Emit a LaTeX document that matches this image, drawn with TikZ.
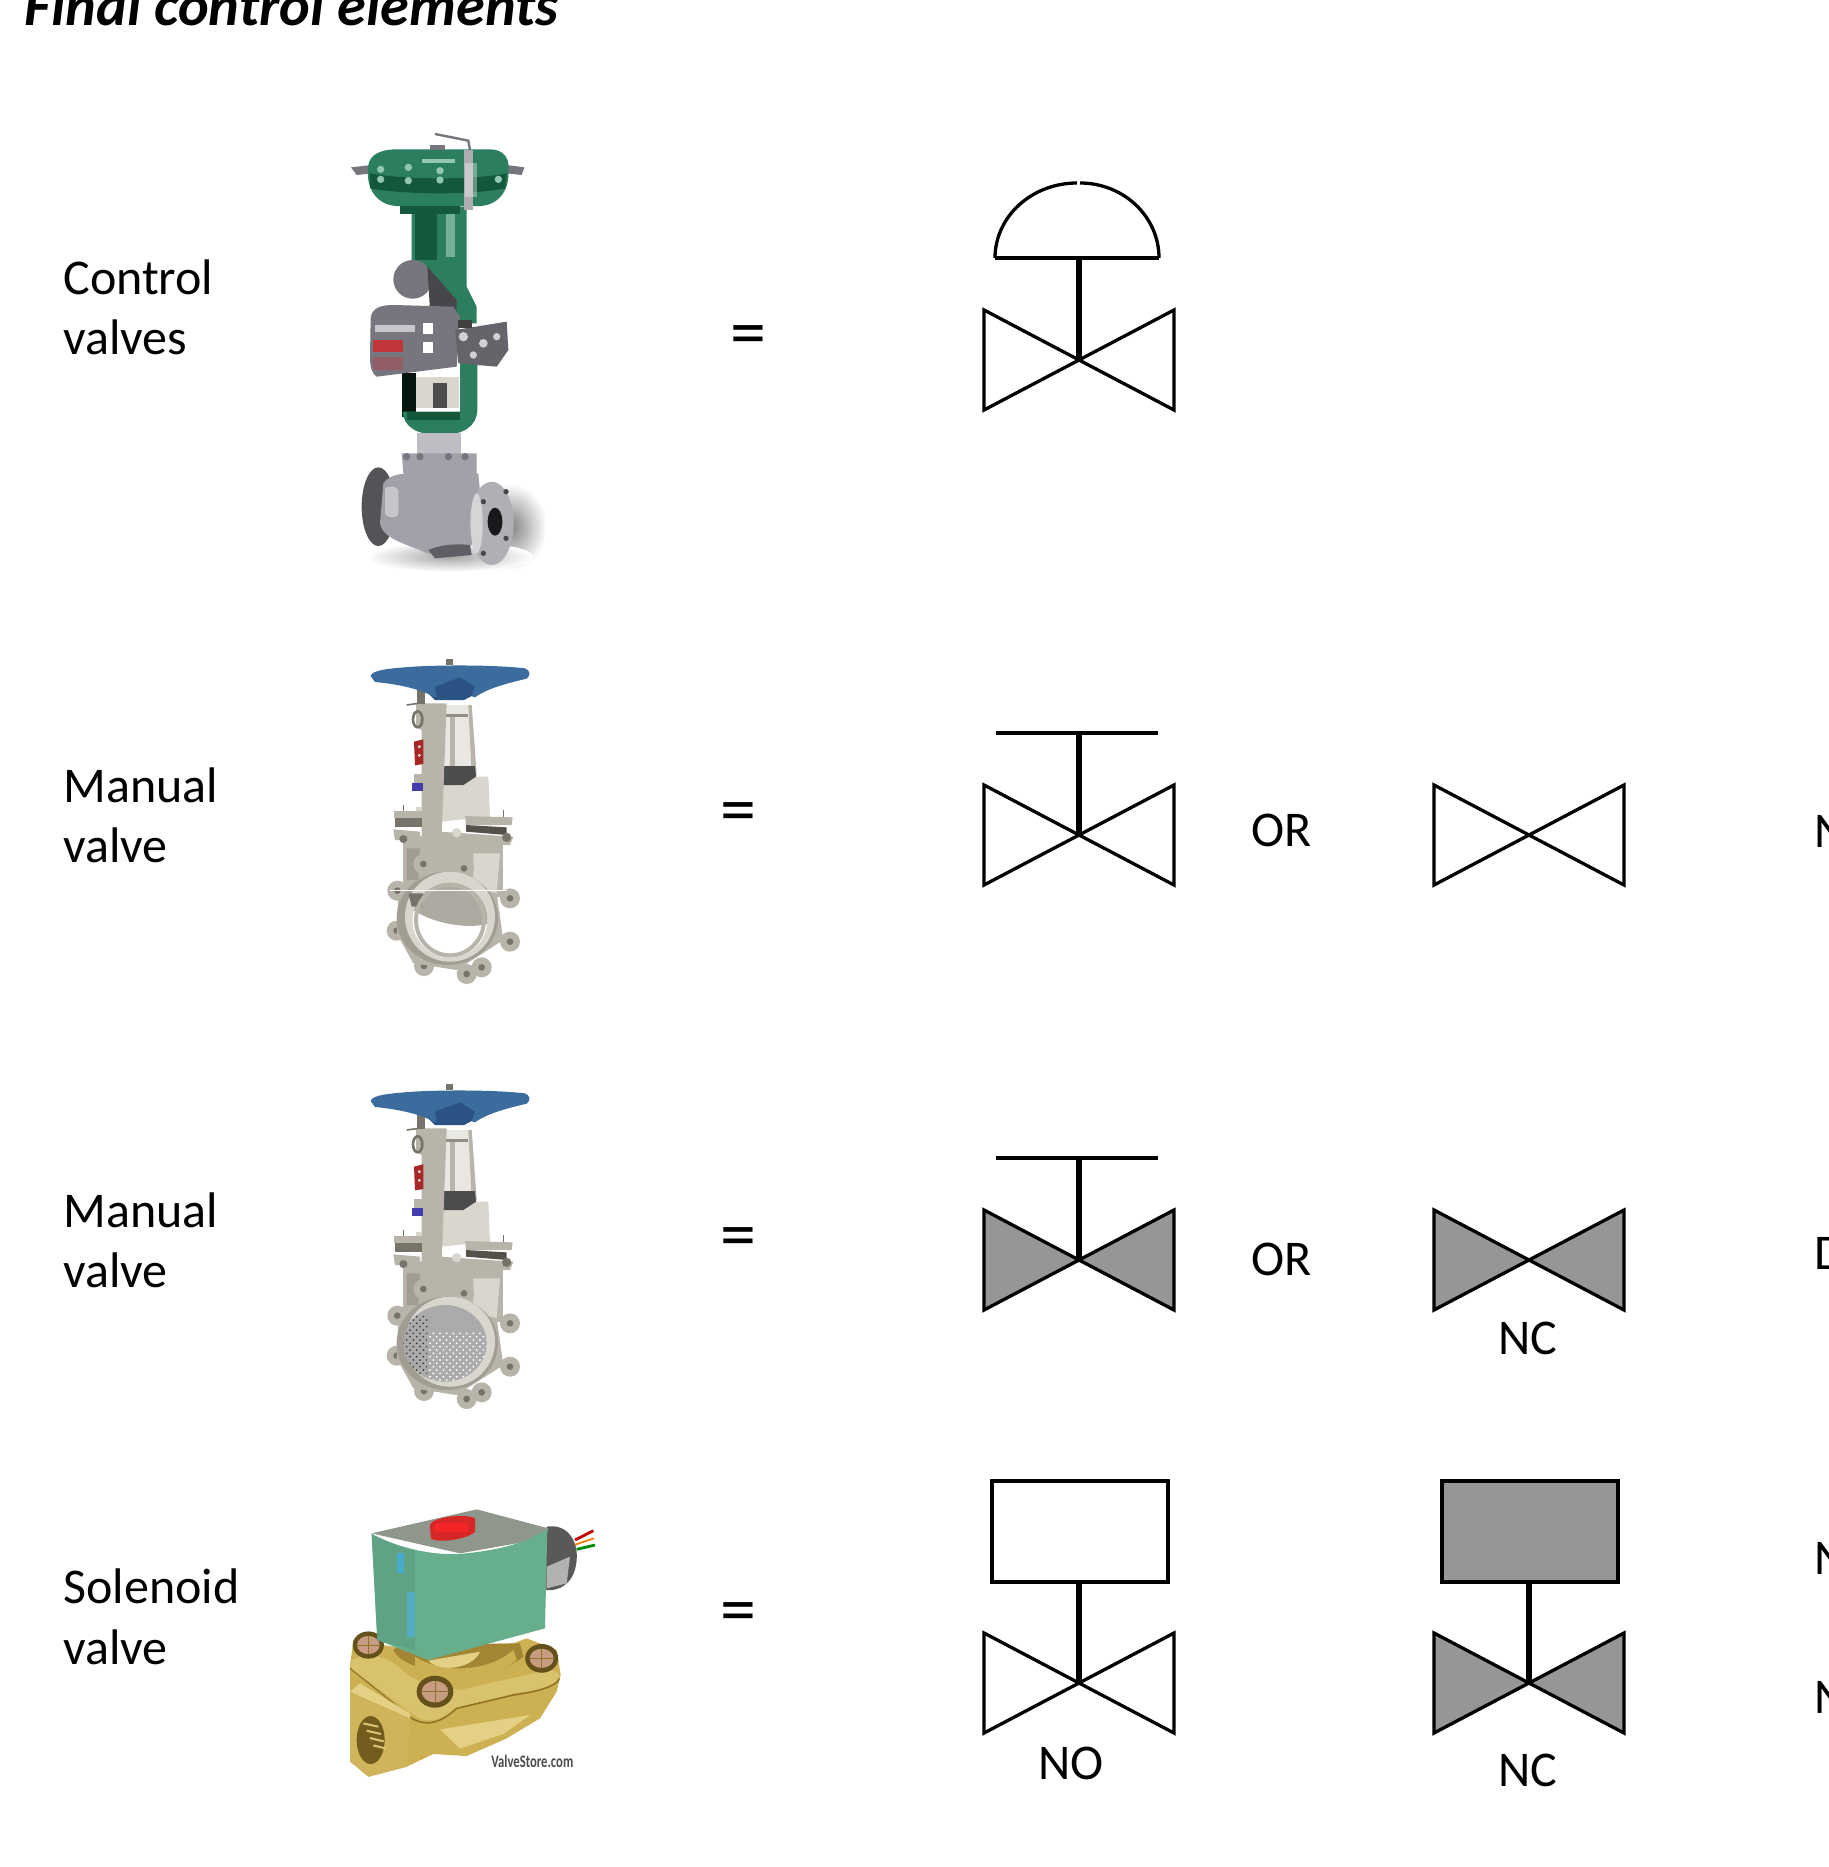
\documentclass[tikz,border=0pt]{standalone}
\usepackage{fontspec}
\setmainfont{Carlito}
\usetikzlibrary{calc}
\definecolor{symgray}{HTML}{969696}
\definecolor{steel}{HTML}{B9B4A9}
\definecolor{steellt}{HTML}{D9D6CE}
\definecolor{steeldk}{HTML}{77736A}
\definecolor{wheel}{HTML}{3C6C9E}
\definecolor{wheeldk}{HTML}{2A5383}
\definecolor{cvgreen}{HTML}{2B7F5E}
\definecolor{cvdark}{HTML}{14583C}
\definecolor{cvlight}{HTML}{93C7B1}
\definecolor{cvgray}{HTML}{77767E}
\definecolor{cvbody}{HTML}{A2A1A9}
\definecolor{coil}{HTML}{66AE8C}
\definecolor{coiltop}{HTML}{8F978C}
\definecolor{brass}{HTML}{CDB052}
\definecolor{brassdk}{HTML}{8F7426}
\definecolor{brasslt}{HTML}{E3D084}
\definecolor{nutpink}{HTML}{C79C80}
\tikzset{
  symline/.style={draw=black,line width=1.65pt,line join=miter},
  stemline/.style={draw=black,line width=2.9pt},
  lbl/.style={anchor=base west,inner sep=0pt,font=\fontsize{25}{30}\selectfont},
  ctr/.style={anchor=center,inner sep=0pt,font=\fontsize{25}{30}\selectfont},
  eqsign/.style={anchor=center,inner sep=0pt,font=\fontsize{36}{40}\selectfont},
  pics/openvalve/.style={code={
    \path[symline,fill=white] (-95,-50)--(95,50)--(95,-50)--(-95,50)--cycle;}},
  pics/shutvalve/.style={code={
    \path[symline,fill=symgray] (-95,-50)--(95,50)--(95,-50)--(-95,50)--cycle;}},
}
\newcommand{\GateBody}{%
  % lower flange body
  \fill[steel] (190,600)--(490,600)--(490,770)--(190,770)--cycle;
  \fill[steellt] (400,640)--(480,640)--(470,760)--(400,740)--cycle;
  \fill[steeldk!35!steel] (200,625)--(240,625)--(235,720)--(200,720)--cycle;
  % cylinder
  \fill[steellt] (300,410)--(445,410)--(450,530)--(300,545)--cycle;
  % yoke
  \fill[steellt!60!white] (315,195)--(395,195)--(410,410)--(305,430)--cycle;
  \fill[steel] (385,195)--(395,195)--(410,405)--(395,405)--cycle;
  \fill[steel] (330,230)--(345,230)--(345,380)--(330,380)--cycle;
  \fill[steeldk!60!steel] (318,222)--(385,222)--(385,232)--(318,232)--cycle;
  \fill[black!70] (310,378)--(405,378)--(408,410)--(370,435)--(310,435)--cycle;
  \fill[steel] (228,190)--(320,190)--(305,590)--(245,590)--(245,270)--(228,260)--cycle;
  \fill[steellt] (228,500)--(245,500)--(245,512)--(228,512)--cycle;
  % flanges
  \fill[steel] (162,512)--(245,512)--(245,535)--(162,535)--cycle;
  \fill[steeldk] (165,535)--(245,535)--(245,560)--(165,560)--cycle;
  \fill[steel] (160,568)--(240,575)--(240,600)--(165,600)--cycle;
  \fill[steel] (375,528)--(518,532)--(515,555)--(378,555)--cycle;
  \fill[steeldk!70!black] (378,555)--(500,562)--(500,585)--(378,575)--cycle;
  \fill[steel] (300,575)--(520,590)--(510,615)--(240,615)--(240,590)--cycle;
  \fill[steeldk] (500,592) circle (14);
  \fill[steeldk] (190,597) circle (12);
  \fill[steellt] (350,578) circle (14);
  \fill[steel] (250,615)--(390,615)--(375,680)--(270,680)--cycle;
  \draw[steeldk,line width=.6pt] (190,495)--(190,512) (490,510)--(490,530);
  % handwheel
  \fill[wheeldk] (232,128)--(440,128)--(372,180)--(285,180)--cycle;
  \fill[steeldk] (232,145)--(255,145)--(255,192)--(232,192)--cycle;
  \fill[wheel] (92,108) .. controls (95,90) and (150,85) .. (220,80)
     .. controls (300,75) and (460,74) .. (555,85)
     .. controls (572,92) and (572,106) .. (560,116)
     .. controls (500,130) and (440,146) .. (405,172)
     .. controls (360,156) and (320,156) .. (285,172)
     .. controls (240,146) and (170,132) .. (105,126) -- cycle;
  \fill[wheeldk] (285,140)--(360,112)--(405,140)--(395,168)--(372,180)--(290,178)--cycle;
  \fill[steeldk] (317,58) rectangle (338,76);
  % hook and lock
  \draw[steeldk,line width=1.3pt] (233,238) ellipse (14 and 24);
  \draw[steeldk,line width=.8pt] (200,195)--(235,190);
  \fill[red!60!black!85!white] (222,305)--(250,298)--(250,372)--(225,376)--cycle;
  \fill[steellt] (238,320) circle (5) (238,346) circle (5);
  \fill[steel] (222,402)--(246,402)--(246,430)--(222,430)--cycle;
  \fill[blue!45!steeldk] (216,430)--(248,430)--(248,452)--(216,452)--cycle;
  % lugs
  \foreach \a/\b in {250/672,372/685,172/752,510/775,170/872,510/905,252/978,380/1002,425/982}{
    \fill[steel] (\a,\b) circle (30);
    \fill[steeldk] (\a,\b) circle (10);
  }
  % ring
  \fill[steel] (175,760) -- (470,760) -- (490,900) -- (350,990) -- (220,970) -- (170,880) -- cycle;
  \fill[steeldk!35!steel] (322,835) ellipse (152 and 140);
  \fill[steellt] (330,830) ellipse (135 and 135);
}
\begin{document}
\begin{tikzpicture}[x=.5pt,y=-.5pt]
\path[use as bounding box,clip] (0,0) rectangle (1828,1867);
\fill[white] (0,0) rectangle (1828,1867);

% ---------- titles and labels
\node[anchor=base west,inner sep=0pt,font=\fontsize{29.15}{34}\selectfont\bfseries\itshape] (title) at (24,26) {Final control elements};
\node[lbl] (t1a) at (63,294) {Control};
\node[lbl] (t1b) at (63,354) {valves};
\node[lbl] (t2a) at (63,802) {Manual};
\node[lbl] (t2b) at (63,862) {valve};
\node[lbl] (t3a) at (63,1227) {Manual};
\node[lbl] (t3b) at (63,1287) {valve};
\node[lbl] (t4a) at (63,1603) {Solenoid};
\node[lbl] (t4b) at (63,1664) {valve};
\node[eqsign] (e1) at (748,341) {=};
\node[eqsign] (e2) at (738,818) {=};
\node[eqsign] (e3) at (738,1243) {=};
\node[eqsign] (e4) at (738,1618) {=};
\node[ctr] (or1) at (1282,830) {OR};
\node[ctr] (or2) at (1282,1259) {OR};
\node[ctr] (nc1) at (1528,1338) {NC};
\node[ctr] (no2) at (1071,1763) {NO};
\node[ctr] (nc2) at (1528,1770) {NC};
\node[lbl] (r1) at (1814,847) {N};
\node[lbl] (r2) at (1814,1269) {D};
\node[lbl] (r3) at (1814,1574) {N};
\node[lbl] (r4) at (1814,1713) {N};

% ---------- symbols, row 1
\coordinate (v1) at (1079,360);
\pic at (v1) {openvalve};
\draw[stemline] (1079,258)--(v1);
\draw[symline] (995,258)--(1159,258);
\draw[symline] (995,258) arc[start angle=180,end angle=270,x radius=82,y radius=75];
\draw[symline] (1159,258) arc[start angle=0,end angle=-90,x radius=79,y radius=75];
% ---------- row 2
\coordinate (v2) at (1079,835);
\pic at (v2) {openvalve};
\draw[stemline] (1079,733)--(v2);
\draw[symline] (996,733)--(1158,733);
\coordinate (v2b) at (1529,835);
\pic at (v2b) {openvalve};
% ---------- row 3
\coordinate (v3) at (1079,1260);
\pic at (v3) {shutvalve};
\draw[stemline] (1079,1158)--(v3);
\draw[symline] (996,1158)--(1158,1158);
\coordinate (v3b) at (1529,1260);
\pic at (v3b) {shutvalve};
% ---------- row 4
\coordinate (v4) at (1079,1683);
\pic at (v4) {openvalve};
\draw[stemline] (1079,1582)--(v4);
\draw[symline,fill=white] (992,1481) rectangle (1168,1582);
\draw[symline] (996,1582)--(1158,1582);
\coordinate (v4b) at (1529,1683);
\pic at (v4b) {shutvalve};
\draw[stemline] (1529,1582)--(v4b);
\draw[symline,fill=symgray] (1442,1481) rectangle (1618,1582);
\draw[symline] (1446,1582)--(1608,1582);

% ---------- photograph: control valve
\begin{scope}[shift={(340,110)},x=.16667pt,y=-.16667pt]
  % soft shadow
  \shade[inner color=black!50,outer color=white] (510,1250) ellipse (110 and 130);
  \shade[inner color=black!35,outer color=white] (330,1340) ellipse (250 and 45);
  % top fitting and bolts
  \draw[cvgray,line width=1.2pt] (285,72)--(385,92)--(390,120);
  \fill[cvgray] (33,172)--(95,165)--(95,190)--(50,195)--cycle;
  \fill[cvgray] (500,165)--(553,172)--(545,195)--(500,190)--cycle;
  % diaphragm
  \fill[cvgreen] (85,165) .. controls (90,135) and (120,118) .. (170,118)
    -- (450,118) .. controls (490,118) and (510,145) .. (505,180)
    .. controls (510,235) and (480,285) .. (420,288)
    -- (170,288) .. controls (110,285) and (75,235) .. (85,165) -- cycle;
  \fill[cvdark] (90,190) .. controls (200,210) and (400,210) .. (500,190)
     -- (495,235) .. controls (400,255) and (200,255) .. (90,235) -- cycle;
  \fill[cvlight] (245,148) rectangle (345,160);
  \foreach \a/\b in {122/178,122/208,205/172,205/212,300/210,475/208,300/182}{
    \fill[cvlight] (\a,\b) circle (11);
  }
  \fill[cvgray] (270,105) rectangle (315,120);
  % column
  \fill[cvgreen] (215,290) -- (380,290) -- (380,530) -- (410,590) -- (410,640) -- (350,640) -- (215,460) -- cycle;
  \fill[cvdark] (225,300) rectangle (290,450);
  \fill[cvlight!70!cvgreen] (318,310) rectangle (345,440);
  \fill[cvdark] (180,288) rectangle (360,312);
  \fill[cvgray!60!white] (372,120) rectangle (398,300);
  \fill[white,opacity=.35] (375,160) rectangle (410,260);
  % lower yoke
  \fill[black!75!cvdark] (185,790) rectangle (228,920);
  \fill[cvgreen] (360,740) -- (412,740) -- (412,900) .. controls (410,950) and (370,975) .. (300,975)
    .. controls (230,975) and (190,950) .. (188,905) -- (360,905) -- cycle;
  \fill[cvdark] (200,905) rectangle (360,930);
  \fill[steellt] (228,800) rectangle (358,895);
  \fill[black!70] (278,820) rectangle (322,895);
  % positioner
  \fill[cvgray] (218,508) circle (58);
  \fill[cvgray!60!black] (262,470)--(350,570)--(350,640)--(270,600)--cycle;
  \fill[cvgray] (92,625) .. controls (95,595) and (120,585) .. (160,585) -- (340,590)
     -- (360,620) -- (350,770) -- (110,800) .. controls (95,790) and (90,770) .. (90,740) -- cycle;
  \fill[cvbody!60!white] (105,645) rectangle (225,665);
  \fill[red!55!cvgray] (100,690) rectangle (190,725);
  \fill[red!20!cvgray] (100,740) rectangle (190,780);
  \fill[white] (250,640) rectangle (278,672);
  \fill[white] (250,695) rectangle (278,730);
  % manifold
  \fill[cvgray!85!black] (345,660) -- (500,635) -- (505,720) -- (470,770) -- (355,760) -- cycle;
  \fill[cvbody!50!white] (370,680) circle (14) (430,700) circle (13) (470,680) circle (11) (400,735) circle (11);
  \fill[black!75] (355,630) rectangle (395,655);
  % neck, bonnet, body
  \fill[cvbody!70!white] (232,970) rectangle (362,1035);
  \fill[cvbody] (185,1030) -- (410,1030) -- (410,1090) .. controls (350,1115) and (240,1115) .. (190,1090) -- cycle;
  \foreach \a in {200,240,325,375}{\fill[cvgray] (\a,1040) circle (11);}
  \fill[cvgray!70!black] (115,1190) ellipse (50 and 118);
  \fill[cvbody] (130,1120) .. controls (150,1090) and (200,1085) .. (250,1095) -- (415,1090) -- (430,1260)
      .. controls (400,1330) and (310,1345) .. (260,1330)
      .. controls (200,1300) and (130,1290) .. (120,1240) -- cycle;
  \fill[cvbody!60!white] (135,1135) .. controls (150,1125) and (170,1130) .. (175,1140) -- (175,1215) .. controls (160,1225) and (145,1225) .. (135,1210) -- cycle;
  \fill[cvgray!80!black] (265,1320) .. controls (300,1305) and (340,1300) .. (390,1305) -- (395,1335) -- (285,1345) -- cycle;
  \fill[cvbody!85!white] (455,1240) ellipse (66 and 125);
  \fill[cvbody!45!white] (410,1240) ellipse (18 and 90);
  \fill[black!90] (465,1235) ellipse (22 and 42);
  \foreach \a/\b in {430/1175,498/1145,498/1285,430/1330}{\fill[cvgray!60!black] (\a,\b) circle (8);}
\end{scope}

% ---------- photograph: gate valve, row 2
\begin{scope}[shift={(340,640)},x=.16667pt,y=-.16667pt]
  \GateBody
  \fill[white] (330,840) ellipse (112 and 112);
  \begin{scope}
    \clip (330,840) ellipse (112 and 112);
    \fill[steeldk!45!steellt] (205,720) rectangle (450,800);
    \fill[steeldk!45!steellt] (205,800) .. controls (270,850) and (380,870) .. (450,850) -- (450,790) -- (205,790) -- cycle;
  \end{scope}
  \fill[steeldk] (205,760) -- (250,760) -- (245,800) -- (215,800) -- cycle;
  \draw[steel,line width=2pt] (330,840) ellipse (102 and 106);
  \draw[white,line width=.45pt] (150,752)--(500,752);
\end{scope}

% ---------- photograph: gate valve, row 3
\begin{scope}[shift={(340,1065)},x=.16667pt,y=-.16667pt]
  \GateBody
  \begin{scope}
    \clip (315,835) ellipse (125 and 115);
    \fill[black!33] (180,710) rectangle (450,960);
    \foreach \i in {0,...,26}{
      \foreach \j in {0,...,25}{
        \pgfmathtruncatemacro{\odd}{mod(\i+\j,2)}
        \pgfmathsetmacro{\xx}{190+10*\i}
        \pgfmathsetmacro{\yy}{715+10*\j}
        \ifnum\odd=0
          \pgfmathtruncatemacro{\isw}{(\xx>255 && \yy>795) ? 1 : 0}
          \pgfmathtruncatemacro{\isd}{(\xx<265 && \yy>745) ? 1 : 0}
          \ifnum\isw=1 \fill[white] (\xx,\yy) circle (3.2); \fi
          \ifnum\isd=1 \fill[black!75] (\xx,\yy) circle (3); \fi
        \fi
      }
    }
  \end{scope}
\end{scope}

% ---------- photograph: solenoid valve
\begin{scope}[shift={(300,1460)},x=.16667pt,y=-.16667pt]
  % brass silhouette
  \fill[brass] (150,620) -- (160,540) -- (280,560) -- (640,550) -- (680,535) -- (770,570) -- (782,645) -- (770,695)
     -- (720,775) -- (620,835) -- (500,888) -- (400,882) -- (320,920) -- (205,950) -- (150,900) -- (150,695) -- cycle;
  \fill[brassdk!70!brass] (280,570) .. controls (310,640) and (560,680) .. (670,590) -- (660,550) -- (300,555) -- cycle;
  \fill[brass] (345,590) .. controls (420,640) and (560,640) .. (640,570) -- (650,600) .. controls (560,670) and (400,670) .. (345,620) -- cycle;
  \fill[brasslt] (420,808) -- (690,765) -- (610,822) -- (480,866) -- cycle;
  % plate
  \fill[brasslt!55!brass] (150,605) .. controls (200,570) and (260,590) .. (300,625)
     .. controls (360,680) and (420,680) .. (480,690) -- (700,640) .. controls (740,620) and (780,630) .. (780,655)
     .. controls (770,680) and (720,690) .. (640,700) -- (460,750) .. controls (410,790) and (370,790) .. (335,760)
     -- (200,660) .. controls (170,650) and (150,630) .. (150,605) -- cycle;
  \draw[brassdk,line width=.8pt] (335,775) .. controls (390,805) and (430,780) .. (470,745) -- (640,705) .. controls (710,695) and (770,680) .. (778,655);
  \draw[brassdk,line width=.6pt] (150,625) .. controls (200,665) and (270,720) .. (335,775);
  % port block
  \fill[brasslt] (150,695) -- (180,670) -- (330,760) -- (330,775) -- cycle;
  \fill[brass!95!white] (150,700) -- (330,775) -- (322,920) -- (205,950) -- (150,905) -- cycle;
  \fill[brassdk!80!black] (212,840) ellipse (42 and 72);
  \foreach \t in {0,1,2,3}{
    \draw[brasslt!70!brass,line width=1pt] ({190+\t*10},{790+\t*22}) -- ({235+\t*8},{800+\t*22});
  }
  % nuts
  \foreach \a/\b/\s in {205/555/.85,725/595/.9,405/695/1}{
    \fill[brassdk!70!black] (\a,\b) ellipse ({55*\s} and {48*\s});
    \fill[nutpink] (\a,\b) ellipse ({40*\s} and {32*\s});
    \draw[brassdk,line width=.5pt] (\a,\b-32*\s) -- (\a,\b+32*\s) (\a-40*\s,\b) -- (\a+40*\s,\b);
  }
  % cylinder and wires
  \draw[red!75!black,line width=1.4pt] (825,240)--(880,212);
  \draw[orange!80!brown,line width=.9pt] (825,254)--(882,235);
  \draw[green!55!black,line width=1.4pt] (830,268)--(885,255);
  \fill[black!65] (740,200) .. controls (800,190) and (835,240) .. (830,300)
      .. controls (825,360) and (790,395) .. (735,390) -- cycle;
  \fill[black!30] (740,320) -- (810,290) -- (800,370) -- (740,385) -- cycle;
  % coil
  \fill[coiltop] (215,220) -- (530,148) -- (745,205) -- (735,235) -- (480,280) -- cycle;
  \fill[coil] (215,222) .. controls (310,270) and (400,285) .. (480,282)
     .. controls (600,270) and (680,250) .. (742,205) -- (735,505) -- (385,600) -- (232,540) -- cycle;
  \fill[coil!94!black] (215,222) .. controls (260,245) and (300,262) .. (345,270)
     -- (345,570) -- (232,540) -- cycle;
  \fill[cyan!55!coil] (290,280) rectangle (312,340);
  \fill[cyan!45!coil] (320,395) rectangle (345,530);
  \fill[brasslt] (385,602) -- (540,575) .. controls (520,625) and (420,640) .. (385,602) -- cycle;
  % red button
  \fill[red!80!black!80!pink] (390,195) .. controls (395,170) and (500,160) .. (525,175)
     -- (525,215) .. controls (500,240) and (410,250) .. (392,235) -- cycle;
  \fill[red!85!white,opacity=.7] (405,190) rectangle (505,215);
  % brand
  \node[anchor=center,inner sep=0pt,text=black!70,font=\fontsize{8.8}{9}\selectfont\bfseries,xscale=.72,transform shape] (brand) at (697,905) {ValveStore.com};
\end{scope}
\end{tikzpicture}
\end{document}
